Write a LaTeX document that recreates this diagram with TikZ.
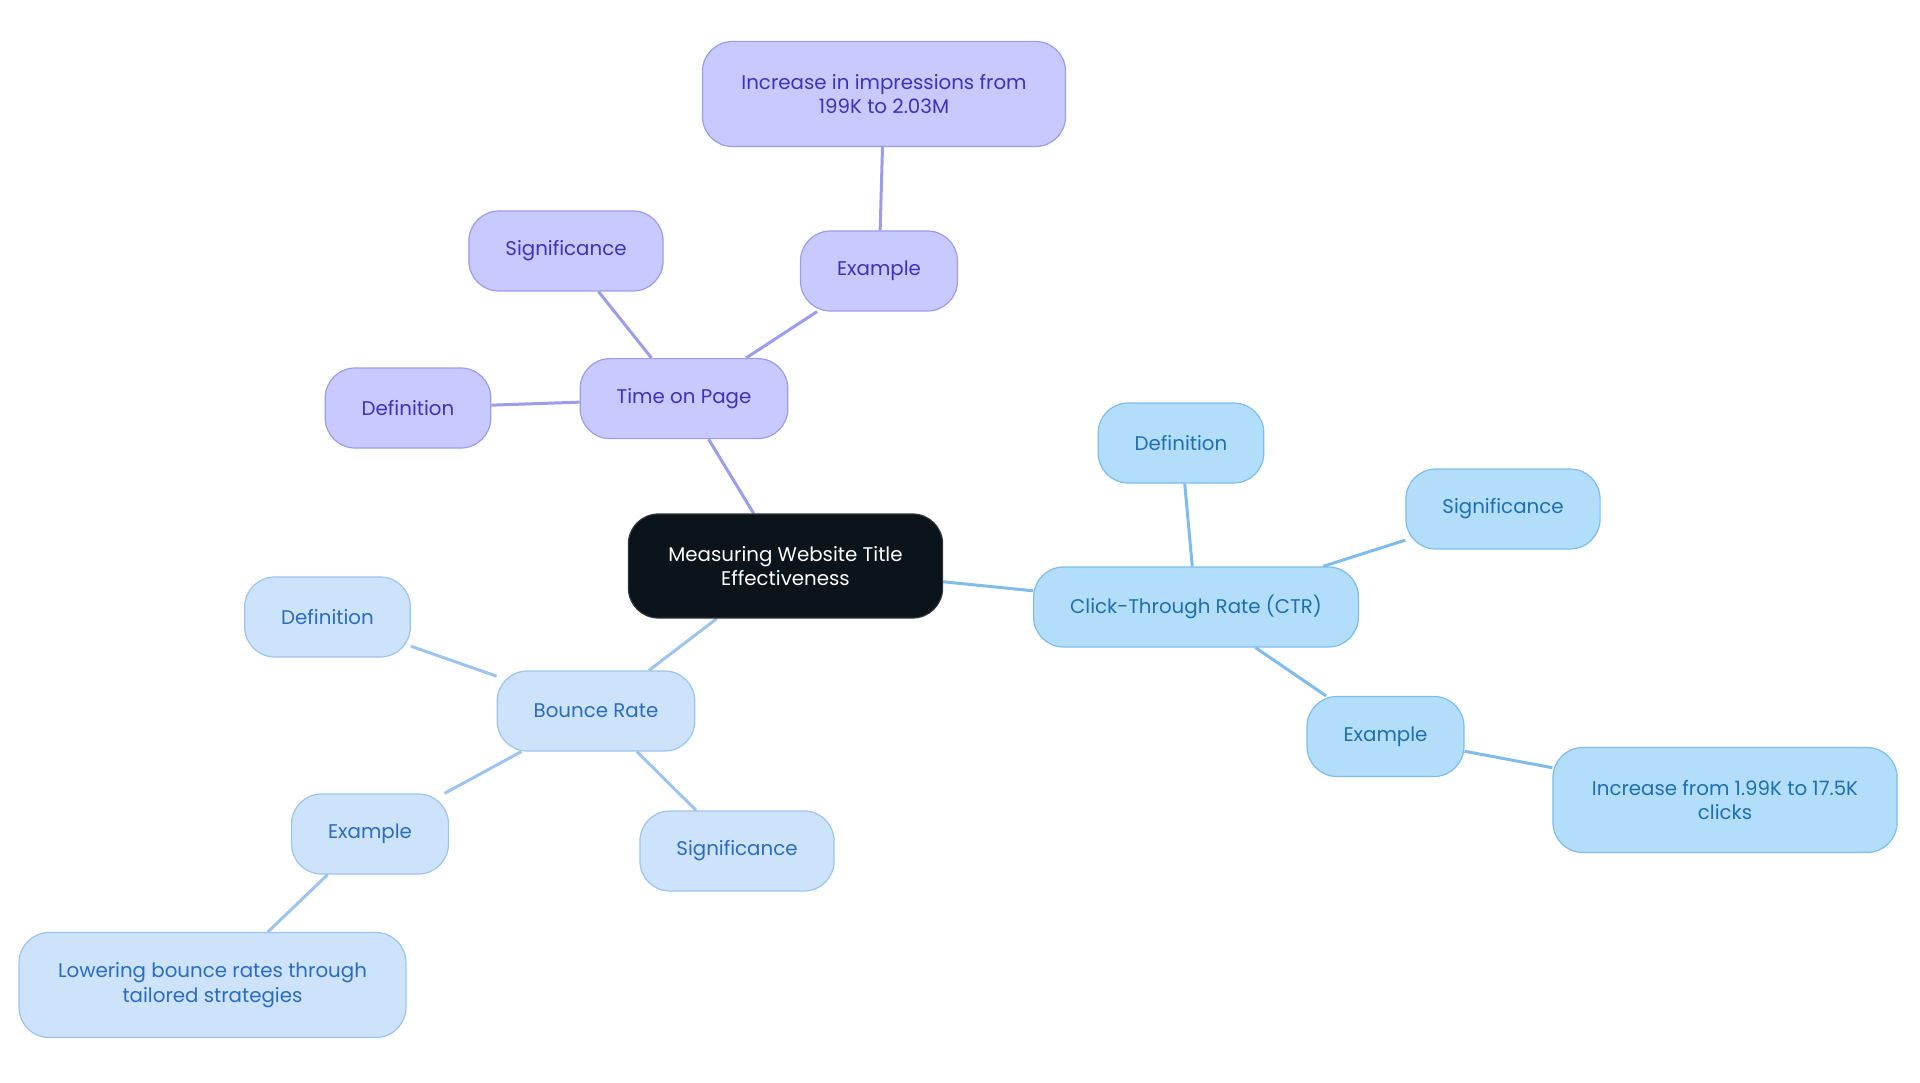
\documentclass[tikz,border=0pt]{standalone}
\usepackage{fontspec}
\setmainfont{Poppins}
\usepackage{xcolor}
\usetikzlibrary{positioning,backgrounds}
\definecolor{rootfill}{RGB}{11, 19, 27}
\definecolor{topfill}{RGB}{200, 202, 255}
\definecolor{topline}{RGB}{155, 156, 235}
\definecolor{toptext}{RGB}{58, 52, 184}
\definecolor{ctrfill}{RGB}{178, 222, 252}
\definecolor{ctrline}{RGB}{127, 188, 235}
\definecolor{ctrtext}{RGB}{31, 111, 176}
\definecolor{brfill}{RGB}{204, 227, 251}
\definecolor{brline}{RGB}{157, 196, 238}
\definecolor{brtext}{RGB}{43, 108, 190}

\tikzset{
  box/.style={rounded corners=30pt, minimum height=80pt, inner xsep=36.5pt, align=center,
    font=\fontsize{19.8}{24.5}\selectfont, line width=1.2pt},
  root/.style={box, fill=rootfill, draw=rootfill!70!gray, text=white, minimum height=104pt, inner xsep=40pt},
  topbox/.style={box, fill=topfill, draw=topline, text=toptext},
  ctrbox/.style={box, fill=ctrfill, draw=ctrline, text=ctrtext},
  brbox/.style={box, fill=brfill, draw=brline, text=brtext},
  longbox/.style={minimum height=105pt, inner xsep=39pt},
  toplink/.style={draw=topline, line width=3pt},
  ctrlink/.style={draw=ctrline, line width=3pt},
  brlink/.style={draw=brline, line width=3pt}
}

\begin{document}
\begin{tikzpicture}[x=1pt, y=-1pt]
  \useasboundingbox (0,0) rectangle (1920,1083);

  \node[root] (root) at (785.5,566) {Measuring Website Title\\Effectiveness};

  % time on page
  \node[topbox] (top) at (684,398.6) {Time on Page};
  \node[topbox] (topdef) at (408,408) {Definition};
  \node[topbox] (topsig) at (566,251) {Significance};
  \node[topbox] (topex) at (879,271) {Example};
  \node[topbox, longbox] (topexd) at (884,94) {Increase in impressions from\\199K to 2.03M};

  % click-through rate
  \node[ctrbox] (ctr) at (1196,607) {Click-Through Rate (CTR)};
  \node[ctrbox] (ctrdef) at (1181,443) {Definition};
  \node[ctrbox] (ctrsig) at (1503,509) {Significance};
  \node[ctrbox] (ctrex) at (1385.5,736.5) {Example};
  \node[ctrbox, longbox] (ctrexd) at (1725,800) {Increase from 1.99K to 17.5K\\clicks};

  % bounce rate
  \node[brbox] (br) at (596,711) {Bounce Rate};
  \node[brbox] (brdef) at (327.5,617) {Definition};
  \node[brbox] (brex) at (370,834) {Example};
  \node[brbox] (brsig) at (737,851) {Significance};
  \node[brbox, longbox] (brexd) at (212.5,985) {Lowering bounce rates through\\tailored strategies};

  \begin{scope}[on background layer]
    \draw[toplink] (root) -- (top);
    \draw[toplink] (top) -- (topdef);
    \draw[toplink] (top) -- (topsig);
    \draw[toplink] (top) -- (topex);
    \draw[toplink] (topex) -- (topexd);
    \draw[ctrlink] (root) -- (ctr);
    \draw[ctrlink] (ctr) -- (ctrdef);
    \draw[ctrlink] (ctr) -- (ctrsig);
    \draw[ctrlink] (ctr) -- (ctrex);
    \draw[ctrlink] (ctrex) -- (ctrexd);
    \draw[brlink] (root) -- (br);
    \draw[brlink] (br) -- (brdef);
    \draw[brlink] (br) -- (brex);
    \draw[brlink] (br) -- (brsig);
    \draw[brlink] (brex) -- (brexd);
  \end{scope}
\end{tikzpicture}
\end{document}
